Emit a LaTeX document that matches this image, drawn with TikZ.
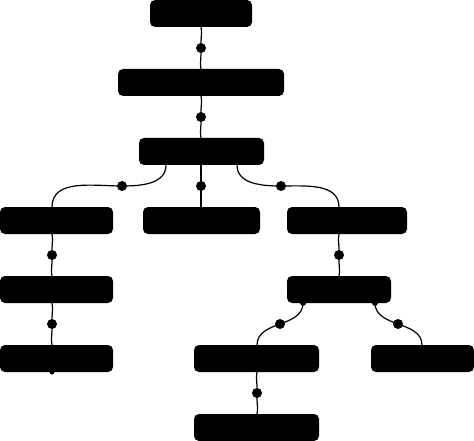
\documentclass[tikz,border=0pt]{standalone}
\begin{document}
\begin{tikzpicture}[x=1pt,y=-1pt,
  box/.style={fill=black,draw=none,rounded corners=5pt,minimum height=27pt,inner sep=0pt},
  dotn/.style={circle,fill=black,inner sep=0pt,minimum size=10pt},
  stub/.style={circle,fill=black,inner sep=0pt,minimum size=6pt},
  edge/.style={draw=black,line width=1.2pt}]
\useasboundingbox (0,0) rectangle (474,441);
% boxes
\node[box,minimum width=102pt] (A) at (201,13.5) {};
\node[box,minimum width=166pt] (B) at (201,82.5) {};
\node[box,minimum width=125pt] (C) at (201.5,151.5) {};
\node[box,minimum width=113pt] (D) at (56.5,220.5) {};
\node[box,minimum width=117pt] (E) at (201.5,220.5) {};
\node[box,minimum width=120pt] (G) at (347,220.5) {};
\node[box,minimum width=113pt] (F) at (56.5,289.5) {};
\node[box,minimum width=104pt] (H) at (339,289.5) {};
\node[box,minimum width=113pt] (K) at (56.5,358.5) {};
\node[box,minimum width=125pt] (I) at (256.5,358.5) {};
\node[box,minimum width=103pt] (J) at (422.5,358.5) {};
\node[box,minimum width=125pt] (L) at (256.5,427.5) {};
% attachment points
\coordinate (As) at (201,27);   \coordinate (Bn) at (201,69);
\coordinate (Bs) at (201,96);   \coordinate (Cn) at (201,138);
\coordinate (Cs1) at (166,165); \coordinate (Dn) at (52,207);
\coordinate (Cs2) at (201,165); \coordinate (En) at (201,207);
\coordinate (Cs3) at (237,165); \coordinate (Gn) at (339,207);
\coordinate (Ds) at (52,234);   \coordinate (Fn) at (52,276);
\coordinate (Gs) at (339,234);  \coordinate (Hn) at (339,276);
\coordinate (Fs) at (52,303);   \coordinate (Kn) at (52,345);
\coordinate (Hs1) at (303,303); \coordinate (In) at (257,345);
\coordinate (Hs2) at (375,303); \coordinate (Jn) at (422,345);
\coordinate (Is) at (257,372);  \coordinate (Ln) at (257,414);
% dots
\node[dotn] (dAB) at (201,48) {};
\node[dotn] (dBC) at (201,117) {};
\node[dotn] (dCD) at (122,186) {};
\node[dotn] (dCE) at (201,186) {};
\node[dotn] (dCG) at (281,186) {};
\node[dotn] (dDF) at (52,255) {};
\node[dotn] (dGH) at (339,255) {};
\node[dotn] (dFK) at (52,324) {};
\node[dotn] (dHI) at (280,324) {};
\node[dotn] (dHJ) at (398,324) {};
\node[dotn] (dIL) at (257,393) {};
\node[stub] (sH1) at (Hs1) {};
\node[stub] (sH2) at (Hs2) {};
\node[stub,minimum size=5pt] (sK) at (52,372) {};
% connectors
\draw[edge] (As) to[out=-80,in=95] (dAB.center) to[out=-85,in=100] (Bn);
\draw[edge] (Bs) to[out=-80,in=95] (dBC.center) to[out=-85,in=100] (Cn);
\draw[edge] (Cs1) to[out=-90,in=0] (dCD.center) to[out=180,in=90] (Dn);
\draw[edge] (Cs2) -- (dCE.center) -- (En);
\draw[edge] (Cs3) to[out=-90,in=180] (dCG.center) to[out=0,in=90] (Gn);
\draw[edge] (Ds) to[out=-80,in=95] (dDF.center) to[out=-85,in=100] (Fn);
\draw[edge] (Gs) to[out=-100,in=85] (dGH.center) to[out=-95,in=80] (Hn);
\draw[edge] (Fs) to[out=-80,in=95] (dFK.center) to[out=-85,in=100] (Kn);
\draw[edge] (Hs1) to[out=-90,in=20] (dHI.center) to[out=200,in=90] (In);
\draw[edge] (Hs2) to[out=-90,in=160] (dHJ.center) to[out=-20,in=90] (Jn);
\draw[edge] (Is) to[out=-100,in=85] (dIL.center) to[out=-95,in=80] (Ln);
\end{tikzpicture}
\end{document}
